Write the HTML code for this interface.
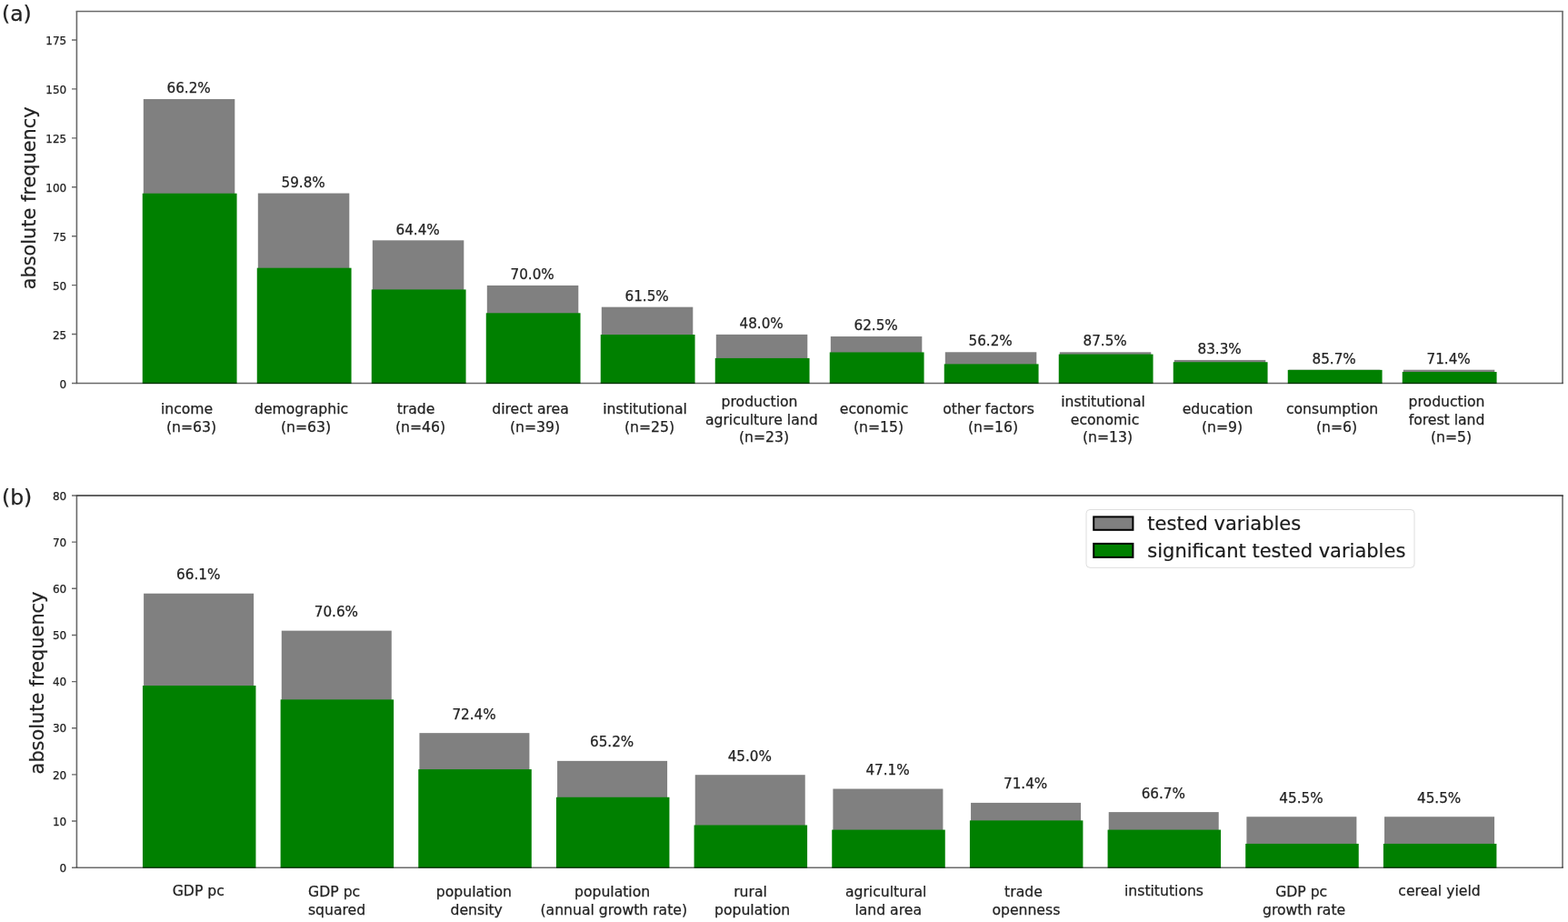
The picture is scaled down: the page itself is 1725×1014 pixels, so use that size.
<!DOCTYPE html>
<html lang="en"><head><meta charset="utf-8"><title>Figure</title>
<style>html,body{margin:0;padding:0;background:#fff}body{width:1725px;height:1014px;overflow:hidden}svg{display:block}text{white-space:pre}rect{stroke-linejoin:miter}</style>
</head><body>
<svg width="1725" height="1014" viewBox="0 0 1725 1014" font-family='"DejaVu Sans", "Liberation Sans", sans-serif' fill="#222" stroke="#222" stroke-width="0.25">
<rect width="1725" height="1014" fill="#fff" stroke="none"/>
<g stroke="none">
<rect x="157.80" y="109.01" width="100.50" height="312.49" fill="#808080"/>
<rect x="156.75" y="212.71" width="103.80" height="209.29" fill="#008000"/>
<rect x="283.80" y="212.55" width="100.50" height="208.95" fill="#808080"/>
<rect x="282.75" y="294.68" width="103.80" height="127.32" fill="#008000"/>
<rect x="409.80" y="264.32" width="100.50" height="157.18" fill="#808080"/>
<rect x="408.75" y="318.41" width="103.80" height="103.59" fill="#008000"/>
<rect x="535.80" y="313.94" width="100.50" height="107.56" fill="#808080"/>
<rect x="534.75" y="344.30" width="103.80" height="77.70" fill="#008000"/>
<rect x="661.80" y="337.67" width="100.50" height="83.83" fill="#808080"/>
<rect x="660.75" y="368.03" width="103.80" height="53.97" fill="#008000"/>
<rect x="787.80" y="367.87" width="100.50" height="53.63" fill="#808080"/>
<rect x="786.75" y="393.91" width="103.80" height="28.09" fill="#008000"/>
<rect x="913.80" y="370.03" width="100.50" height="51.47" fill="#808080"/>
<rect x="912.75" y="387.44" width="103.80" height="34.56" fill="#008000"/>
<rect x="1039.80" y="387.28" width="100.50" height="34.22" fill="#808080"/>
<rect x="1038.75" y="400.39" width="103.80" height="21.61" fill="#008000"/>
<rect x="1165.80" y="387.28" width="100.50" height="34.22" fill="#808080"/>
<rect x="1164.75" y="389.60" width="103.80" height="32.40" fill="#008000"/>
<rect x="1291.80" y="395.91" width="100.50" height="25.59" fill="#808080"/>
<rect x="1290.75" y="398.23" width="103.80" height="23.77" fill="#008000"/>
<rect x="1417.80" y="406.70" width="100.50" height="14.80" fill="#808080"/>
<rect x="1416.75" y="406.86" width="103.80" height="15.14" fill="#008000"/>
<rect x="1543.80" y="406.70" width="100.50" height="14.80" fill="#808080"/>
<rect x="1542.75" y="409.01" width="103.80" height="12.99" fill="#008000"/>
</g>
<g font-size="15.2" text-anchor="middle">
<text x="207.65" y="102.21">66.2%</text>
<text x="333.65" y="205.75">59.8%</text>
<text x="459.65" y="257.52">64.4%</text>
<text x="585.65" y="307.14">70.0%</text>
<text x="711.65" y="330.87">61.5%</text>
<text x="837.65" y="361.07">48.0%</text>
<text x="963.65" y="363.23">62.5%</text>
<text x="1089.65" y="380.48">56.2%</text>
<text x="1215.65" y="380.48">87.5%</text>
<text x="1341.65" y="389.11">83.3%</text>
<text x="1467.65" y="399.90">85.7%</text>
<text x="1593.65" y="399.90">71.4%</text>
</g>
<path d="M84.4 12.5V421.5M1719.0 12.5V421.5" stroke="#6a6a6a" stroke-width="1.6" fill="none"/>
<path d="M83.60 421.5H1719.80" stroke="#6a6a6a" stroke-width="1.6" fill="none" style="mix-blend-mode:multiply"/>
<path d="M83.60 12.5H1719.80" stroke="#6a6a6a" stroke-width="1.6" fill="none"/>
<path d="M79.0 421.50H84.4M79.0 367.57H84.4M79.0 313.64H84.4M79.0 259.71H84.4M79.0 205.78H84.4M79.0 151.85H84.4M79.0 97.92H84.4M79.0 43.99H84.4" stroke="#6a6a6a" stroke-width="1.4" fill="none"/>
<g font-size="12.0" text-anchor="end">
<text x="73.20" y="426.94">0</text>
<text x="73.20" y="373.01">25</text>
<text x="73.20" y="319.08">50</text>
<text x="73.20" y="265.15">75</text>
<text x="73.20" y="211.22">100</text>
<text x="73.20" y="157.29">125</text>
<text x="73.20" y="103.36">150</text>
<text x="73.20" y="49.43">175</text>
</g>
<g stroke="none">
<rect x="158.10" y="652.71" width="121.00" height="301.49" fill="#808080"/>
<rect x="156.95" y="754.01" width="124.50" height="200.69" fill="#008000"/>
<rect x="309.76" y="693.63" width="121.00" height="260.56" fill="#808080"/>
<rect x="308.61" y="769.36" width="124.50" height="185.34" fill="#008000"/>
<rect x="461.42" y="806.16" width="121.00" height="148.04" fill="#808080"/>
<rect x="460.27" y="846.09" width="124.50" height="108.61" fill="#008000"/>
<rect x="613.08" y="836.86" width="121.00" height="117.34" fill="#808080"/>
<rect x="611.93" y="876.77" width="124.50" height="77.93" fill="#008000"/>
<rect x="764.74" y="852.20" width="121.00" height="102.00" fill="#808080"/>
<rect x="763.59" y="907.47" width="124.50" height="47.23" fill="#008000"/>
<rect x="916.40" y="867.54" width="121.00" height="86.66" fill="#808080"/>
<rect x="915.25" y="912.58" width="124.50" height="42.12" fill="#008000"/>
<rect x="1068.06" y="882.89" width="121.00" height="71.31" fill="#808080"/>
<rect x="1066.91" y="902.35" width="124.50" height="52.35" fill="#008000"/>
<rect x="1219.72" y="893.12" width="121.00" height="61.08" fill="#808080"/>
<rect x="1218.57" y="912.58" width="124.50" height="42.12" fill="#008000"/>
<rect x="1371.38" y="898.24" width="121.00" height="55.96" fill="#808080"/>
<rect x="1370.23" y="927.92" width="124.50" height="26.78" fill="#008000"/>
<rect x="1523.04" y="898.24" width="121.00" height="55.96" fill="#808080"/>
<rect x="1521.89" y="927.92" width="124.50" height="26.78" fill="#008000"/>
</g>
<g font-size="15.2" text-anchor="middle">
<text x="218.20" y="637.12">66.1%</text>
<text x="369.86" y="678.04">70.6%</text>
<text x="521.52" y="790.57">72.4%</text>
<text x="673.18" y="821.26">65.2%</text>
<text x="824.84" y="836.60">45.0%</text>
<text x="976.50" y="851.95">47.1%</text>
<text x="1128.16" y="867.29">71.4%</text>
<text x="1279.82" y="877.52">66.7%</text>
<text x="1431.48" y="882.64">45.5%</text>
<text x="1583.14" y="882.64">45.5%</text>
</g>
<path d="M84.4 545.0V954.2M1719.0 545.0V954.2" stroke="#6a6a6a" stroke-width="1.6" fill="none"/>
<path d="M83.60 954.2H1719.80" stroke="#6a6a6a" stroke-width="1.6" fill="none" style="mix-blend-mode:multiply"/>
<path d="M83.60 545.0H1719.80" stroke="#2e2e2e" stroke-width="1.6" fill="none"/>
<path d="M79.0 954.20H84.4M79.0 903.05H84.4M79.0 851.90H84.4M79.0 800.75H84.4M79.0 749.60H84.4M79.0 698.45H84.4M79.0 647.30H84.4M79.0 596.15H84.4M79.0 545.00H84.4" stroke="#6a6a6a" stroke-width="1.4" fill="none"/>
<g font-size="12.0" text-anchor="end">
<text x="73.20" y="958.84">0</text>
<text x="73.20" y="907.69">10</text>
<text x="73.20" y="856.54">20</text>
<text x="73.20" y="805.39">30</text>
<text x="73.20" y="754.24">40</text>
<text x="73.20" y="703.09">50</text>
<text x="73.20" y="651.94">60</text>
<text x="73.20" y="600.79">70</text>
<text x="73.20" y="549.64">80</text>
</g>
<g font-size="15.65" text-anchor="middle">
<text x="205.55" y="455.10">income</text>
<text x="210.55" y="474.60">(n=63)</text>
<text x="331.55" y="455.10">demographic</text>
<text x="336.55" y="474.60">(n=63)</text>
<text x="457.55" y="455.10">trade</text>
<text x="462.55" y="474.60">(n=46)</text>
<text x="583.55" y="455.10">direct area</text>
<text x="588.55" y="474.60">(n=39)</text>
<text x="709.55" y="455.10">institutional</text>
<text x="714.55" y="474.60">(n=25)</text>
<text x="835.55" y="446.50">production</text>
<text x="837.75" y="466.50">agriculture land</text>
<text x="840.55" y="485.50">(n=23)</text>
<text x="961.55" y="455.10">economic</text>
<text x="966.55" y="474.60">(n=15)</text>
<text x="1087.55" y="455.10">other factors</text>
<text x="1092.55" y="474.60">(n=16)</text>
<text x="1213.55" y="446.50">institutional</text>
<text x="1215.55" y="466.60">economic</text>
<text x="1218.55" y="485.50">(n=13)</text>
<text x="1339.55" y="455.10">education</text>
<text x="1344.55" y="474.60">(n=9)</text>
<text x="1465.55" y="455.10">consumption</text>
<text x="1470.55" y="474.60">(n=6)</text>
<text x="1591.55" y="446.50">production</text>
<text x="1591.55" y="466.50">forest land</text>
<text x="1596.55" y="485.50">(n=5)</text>
</g>
<g font-size="15.65" text-anchor="middle">
<text x="218.30" y="984.80">GDP pc</text>
<text x="367.66" y="985.90">GDP pc</text>
<text x="370.56" y="1006.20">squared</text>
<text x="521.42" y="985.90">population</text>
<text x="524.22" y="1006.20">density</text>
<text x="673.58" y="985.90">population</text>
<text x="675.28" y="1006.20">(annual growth rate)</text>
<text x="825.54" y="985.90">rural</text>
<text x="827.64" y="1006.20">population</text>
<text x="974.70" y="985.90">agricultural</text>
<text x="977.20" y="1006.20">land area</text>
<text x="1125.96" y="985.90">trade</text>
<text x="1128.86" y="1006.20">openness</text>
<text x="1280.52" y="984.80">institutions</text>
<text x="1431.68" y="985.90">GDP pc</text>
<text x="1434.58" y="1006.20">growth rate</text>
<text x="1583.54" y="984.80">cereal yield</text>
</g>
<text transform="translate(39.3 217.9) rotate(-90)" font-size="20.85" text-anchor="middle">absolute frequency</text>
<text transform="translate(47.7 751.0) rotate(-90)" font-size="20.85" text-anchor="middle">absolute frequency</text>
<text x="2.00" y="22.70" font-size="23.5" text-anchor="start">(a)</text>
<text x="2.00" y="555.30" font-size="23.5" text-anchor="start">(b)</text>
<rect x="1195" y="560.5" width="361" height="63.8" rx="4" fill="#fff" stroke="#dedede" stroke-width="1"/>
<rect x="1203.2" y="568.4" width="43.2" height="14.4" fill="#808080" stroke="#000" stroke-width="2"/>
<rect x="1203.2" y="597.9" width="43.2" height="15" fill="#008000" stroke="#000" stroke-width="2"/>
<g font-size="21" text-anchor="start" fill="#1a1a1a" stroke="#1a1a1a" stroke-width="0.2">
<text x="1262.3" y="582.5">tested variables</text>
<text x="1262.3" y="612.5">significant tested variables</text>
</g>
</svg>
</body></html>
